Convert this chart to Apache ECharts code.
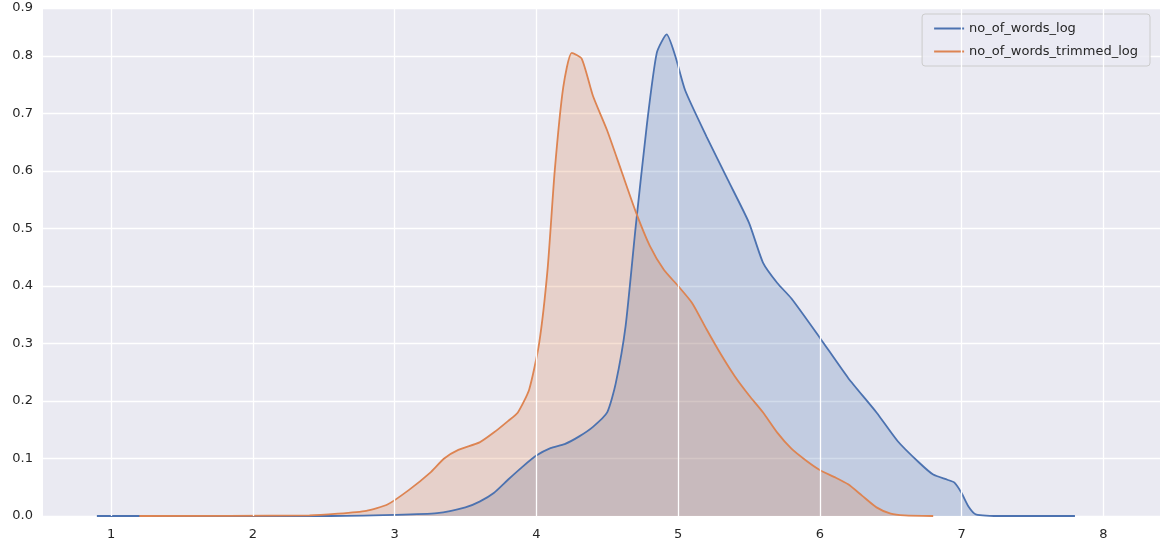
<!DOCTYPE html>
<html><head><meta charset="utf-8">
<script src="https://cdn.jsdelivr.net/npm/echarts@6/dist/echarts.min.js"></script>
<style>html,body{margin:0;padding:0;background:#fff}#c{width:1168px;height:553px}</style>
</head><body><div id="c"></div>
<script>
const xTicks=[1,2,3,4,5,6,7,8];
const wordsLog=[[0.9,0],[2.5,0],[3.0,0.002],[3.3,0.005],[3.5,0.015],[3.6,0.025],[3.7,0.04],[3.8,0.063],[3.9,0.085],[4.0,0.105],[4.1,0.118],[4.2,0.125],[4.3,0.138],[4.4,0.155],[4.5,0.18],[4.56,0.23],[4.63,0.33],[4.7,0.5],[4.78,0.68],[4.85,0.805],[4.92,0.837],[4.98,0.8],[5.05,0.74],[5.2,0.66],[5.35,0.585],[5.5,0.51],[5.6,0.44],[5.7,0.405],[5.8,0.378],[6.0,0.31],[6.2,0.24],[6.4,0.18],[6.55,0.13],[6.7,0.093],[6.8,0.072],[6.9,0.063],[6.95,0.058],[7.0,0.04],[7.05,0.016],[7.1,0.003],[7.3,0],[7.8,0]];
const trimmedLog=[[1.2,0],[2.4,0.001],[2.6,0.004],[2.8,0.009],[2.95,0.02],[3.1,0.045],[3.25,0.075],[3.35,0.1],[3.45,0.115],[3.6,0.128],[3.7,0.145],[3.8,0.165],[3.87,0.18],[3.95,0.22],[4.02,0.3],[4.08,0.43],[4.13,0.6],[4.19,0.745],[4.25,0.805],[4.32,0.795],[4.4,0.73],[4.5,0.67],[4.6,0.6],[4.7,0.53],[4.8,0.47],[4.9,0.428],[5.0,0.4],[5.1,0.37],[5.2,0.325],[5.3,0.282],[5.4,0.243],[5.5,0.21],[5.6,0.18],[5.7,0.145],[5.8,0.117],[5.9,0.097],[6.0,0.08],[6.1,0.068],[6.2,0.055],[6.3,0.035],[6.4,0.015],[6.5,0.004],[6.6,0.001],[6.8,0]];
const chart=echarts.init(document.getElementById('c'));
chart.setOption({
  backgroundColor:'#fff',
  textStyle:{fontFamily:'DejaVu Sans'},
  grid:{left:43,right:8,top:8,bottom:37,backgroundColor:'#EAEAF2',show:true,borderWidth:0},
  legend:{top:14,right:18,orient:'vertical',itemWidth:30,itemHeight:2,icon:'rect',
    backgroundColor:'rgba(234,234,242,0.8)',borderColor:'#ccc',borderWidth:1,borderRadius:3,padding:[8,12],itemGap:10,
    textStyle:{fontSize:13,color:'#262626'}},
  xAxis:{type:'value',min:0.52,max:8.4,
    axisLine:{show:false},axisTick:{show:false},splitLine:{show:false},
    axisLabel:{customValues:xTicks,fontSize:13,color:'#262626',margin:12}},
  yAxis:{type:'value',min:0,max:0.883,interval:0.1,
    axisLine:{show:false},axisTick:{show:false},
    splitLine:{lineStyle:{color:'#fff',width:1.3}},
    axisLabel:{fontSize:13,color:'#262626',margin:10,formatter:v=>v.toFixed(1)}},
  series:[
    {name:'no_of_words_log',type:'line',data:wordsLog,showSymbol:false,smooth:0.2,
     lineStyle:{color:'#4C72B0',width:1.8},itemStyle:{color:'#4C72B0'},areaStyle:{color:'#4C72B0',opacity:0.25},
     markLine:{silent:true,symbol:'none',label:{show:false},lineStyle:{color:'#fff',width:1.3,type:'solid'},
       data:xTicks.map(v=>({xAxis:v}))},z:3},
    {name:'no_of_words_trimmed_log',type:'line',data:trimmedLog,showSymbol:false,smooth:0.2,
     lineStyle:{color:'#DD8452',width:1.8},itemStyle:{color:'#DD8452'},areaStyle:{color:'#DD8452',opacity:0.25},z:3}
  ]
});
</script></body></html>
